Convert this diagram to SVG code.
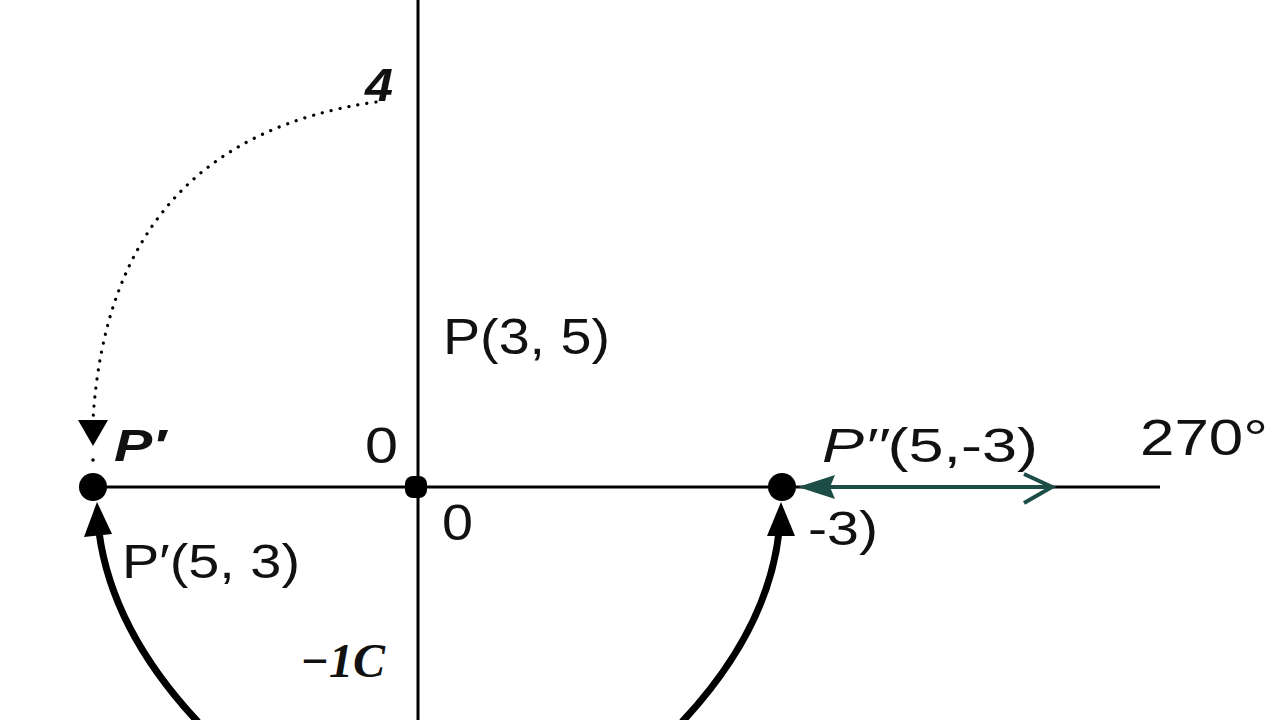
<svg xmlns="http://www.w3.org/2000/svg" width="1280" height="720" viewBox="0 0 1280 720">
<style>
.lbl{font-family:"Liberation Sans",Arial,sans-serif;fill:#111}
.ax{stroke:#000;stroke-width:3;fill:none}
</style>
<rect width="1280" height="720" fill="#fff"/>
<g id="axes">
<line class="ax" x1="418" y1="0" x2="418" y2="720"/>
<line class="ax" x1="93" y1="487" x2="1160" y2="487"/>
</g>
<g id="connectors">
<path d="M376 102 Q110 140 93 420" fill="none" stroke="#000" stroke-width="3.2" stroke-dasharray="0.1 9" stroke-linecap="round"/>
<path d="M78 420 L108 420 L93 446 Z" fill="#000"/>
<circle cx="93" cy="460" r="1.8" fill="#000"/>
<path d="M198 722 Q112 630 99 532" fill="none" stroke="#000" stroke-width="7"/>
<path d="M97 502 L84 537 L112 534 Z" fill="#000"/>
<path d="M682 722 Q768 630 779 532" fill="none" stroke="#000" stroke-width="7"/>
<path d="M781 502 L767 536 L795 536 Z" fill="#000"/>
<line x1="815" y1="487" x2="1050" y2="487" stroke="#1d4d47" stroke-width="4"/>
<path d="M798 487 L835 475 L830 487 L835 499 Z" fill="#1d4d47"/>
<path d="M1024 474 L1052 487 L1024 503" fill="none" stroke="#1d4d47" stroke-width="4"/>
</g>
<g id="points">
<circle cx="93" cy="487" r="14" fill="#000"/>
<rect x="405" y="476" width="22" height="22" rx="8" fill="#000"/>
<circle cx="782" cy="487" r="14" fill="#000"/>
</g>
<g id="labels">
<text class="lbl" x="365" y="101" font-size="46" font-weight="bold" font-style="italic" textLength="28" lengthAdjust="spacingAndGlyphs">4</text>
<text class="lbl" x="443" y="354" font-size="50" textLength="167" lengthAdjust="spacingAndGlyphs">P(3, 5)</text>
<text class="lbl" x="365" y="463" font-size="50" textLength="33" lengthAdjust="spacingAndGlyphs">0</text>
<text class="lbl" x="442" y="540" font-size="50" textLength="31" lengthAdjust="spacingAndGlyphs">0</text>
<text class="lbl" x="114" y="461" font-size="44" font-style="italic" font-weight="bold" textLength="52" lengthAdjust="spacingAndGlyphs">P′</text>
<text class="lbl" x="122" y="578" font-size="48" textLength="178" lengthAdjust="spacingAndGlyphs">P′(5, 3)</text>
<text x="300" y="677" font-size="48" font-style="italic" font-weight="bold" font-family="'Liberation Serif',serif" fill="#111" textLength="85" lengthAdjust="spacingAndGlyphs">−1C</text>
<text class="lbl" x="822" y="462" font-size="48" textLength="216" lengthAdjust="spacingAndGlyphs"><tspan font-style="italic">P′′</tspan>(5,-3)</text>
<text class="lbl" x="808" y="545" font-size="48" textLength="70" lengthAdjust="spacingAndGlyphs">-3)</text>
<text class="lbl" x="1140" y="455" font-size="50" textLength="128" lengthAdjust="spacingAndGlyphs">270°</text>
</g>
</svg>
